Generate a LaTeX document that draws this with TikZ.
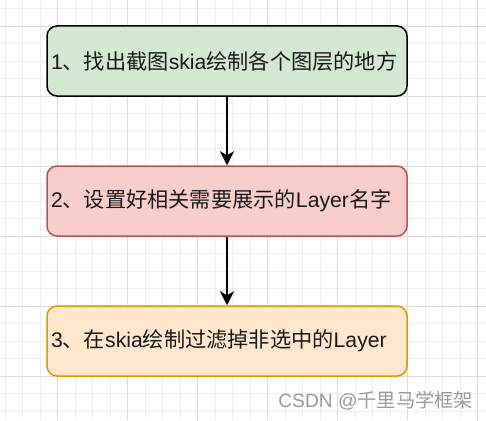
\documentclass[tikz,border=0pt]{standalone}
\usepackage{fontspec}
\setmainfont{Liberation Sans}
\newfontfamily\cjk{Noto Sans CJK SC}
\newcommand{\zh}[1]{{\cjk #1}}
\usetikzlibrary{arrows.meta}
\definecolor{gminor}{HTML}{EEEEEE}
\definecolor{gmajor}{HTML}{DCDCDC}
\definecolor{gfill}{HTML}{D5E8D4}
\definecolor{rfill}{HTML}{F8CECC}
\definecolor{rstroke}{HTML}{B85450}
\definecolor{ofill}{HTML}{FFE6CC}
\definecolor{ostroke}{HTML}{D79B00}
\definecolor{wmgray}{HTML}{9A9A9A}
\tikzset{
  stepbox/.style={draw, line width=1.5pt, rounded corners=10pt, minimum width=360pt, minimum height=70pt,
    text width=352pt, inner xsep=4pt, inner ysep=0pt, align=left, font=\fontsize{21.2pt}{24pt}\selectfont, text=black!90},
  flow/.style={line width=1.5pt, -{Stealth[length=14pt, width=14pt, inset=4pt]}},
  gridminor/.style={gminor, line width=0.8pt},
  gridmajor/.style={gmajor, line width=0.9pt}
}
\begin{document}
\begin{tikzpicture}[x=1pt, y=-1pt]
\fill[white] (0,0) rectangle (486,420);
\useasboundingbox (0,0) rectangle (486,420);
% grid
\foreach \i in {0,...,27} {\draw[gridminor] ({5+17.5*\i},0) -- ({5+17.5*\i},420);}
\foreach \j in {0,...,23} {\draw[gridminor] (0,{8.5+17.5*\j}) -- (486,{8.5+17.5*\j});}
\foreach \i in {0,...,6} {\draw[gridmajor] ({57.5+70*\i},0) -- ({57.5+70*\i},420);}
\foreach \j in {0,...,5} {\draw[gridmajor] (0,{26+70*\j}) -- (486,{26+70*\j});}
% boxes
\node[stepbox, fill=gfill, draw=black] (b1) at (227,61) {1\zh{、找出截图}skia\zh{绘制各个图层的地方}};
\node[stepbox, fill=rfill, draw=rstroke] (b2) at (227,201) {2\zh{、设置好相关需要展示的}Layer\zh{名字}};
\node[stepbox, fill=ofill, draw=ostroke] (b3) at (227,341) {3\zh{、在}skia\zh{绘制过滤掉非选中的}Layer};
% connectors
\draw[flow] (b1.south) -- (b2.north);
\draw[flow] (b2.south) -- (b3.north);
% watermark
\node[text=wmgray, font=\fontsize{19.2pt}{20pt}\selectfont, inner sep=0pt, anchor=east] (wm) at (473,401) {CSDN @\zh{千里马学框架}};
\end{tikzpicture}
\end{document}
